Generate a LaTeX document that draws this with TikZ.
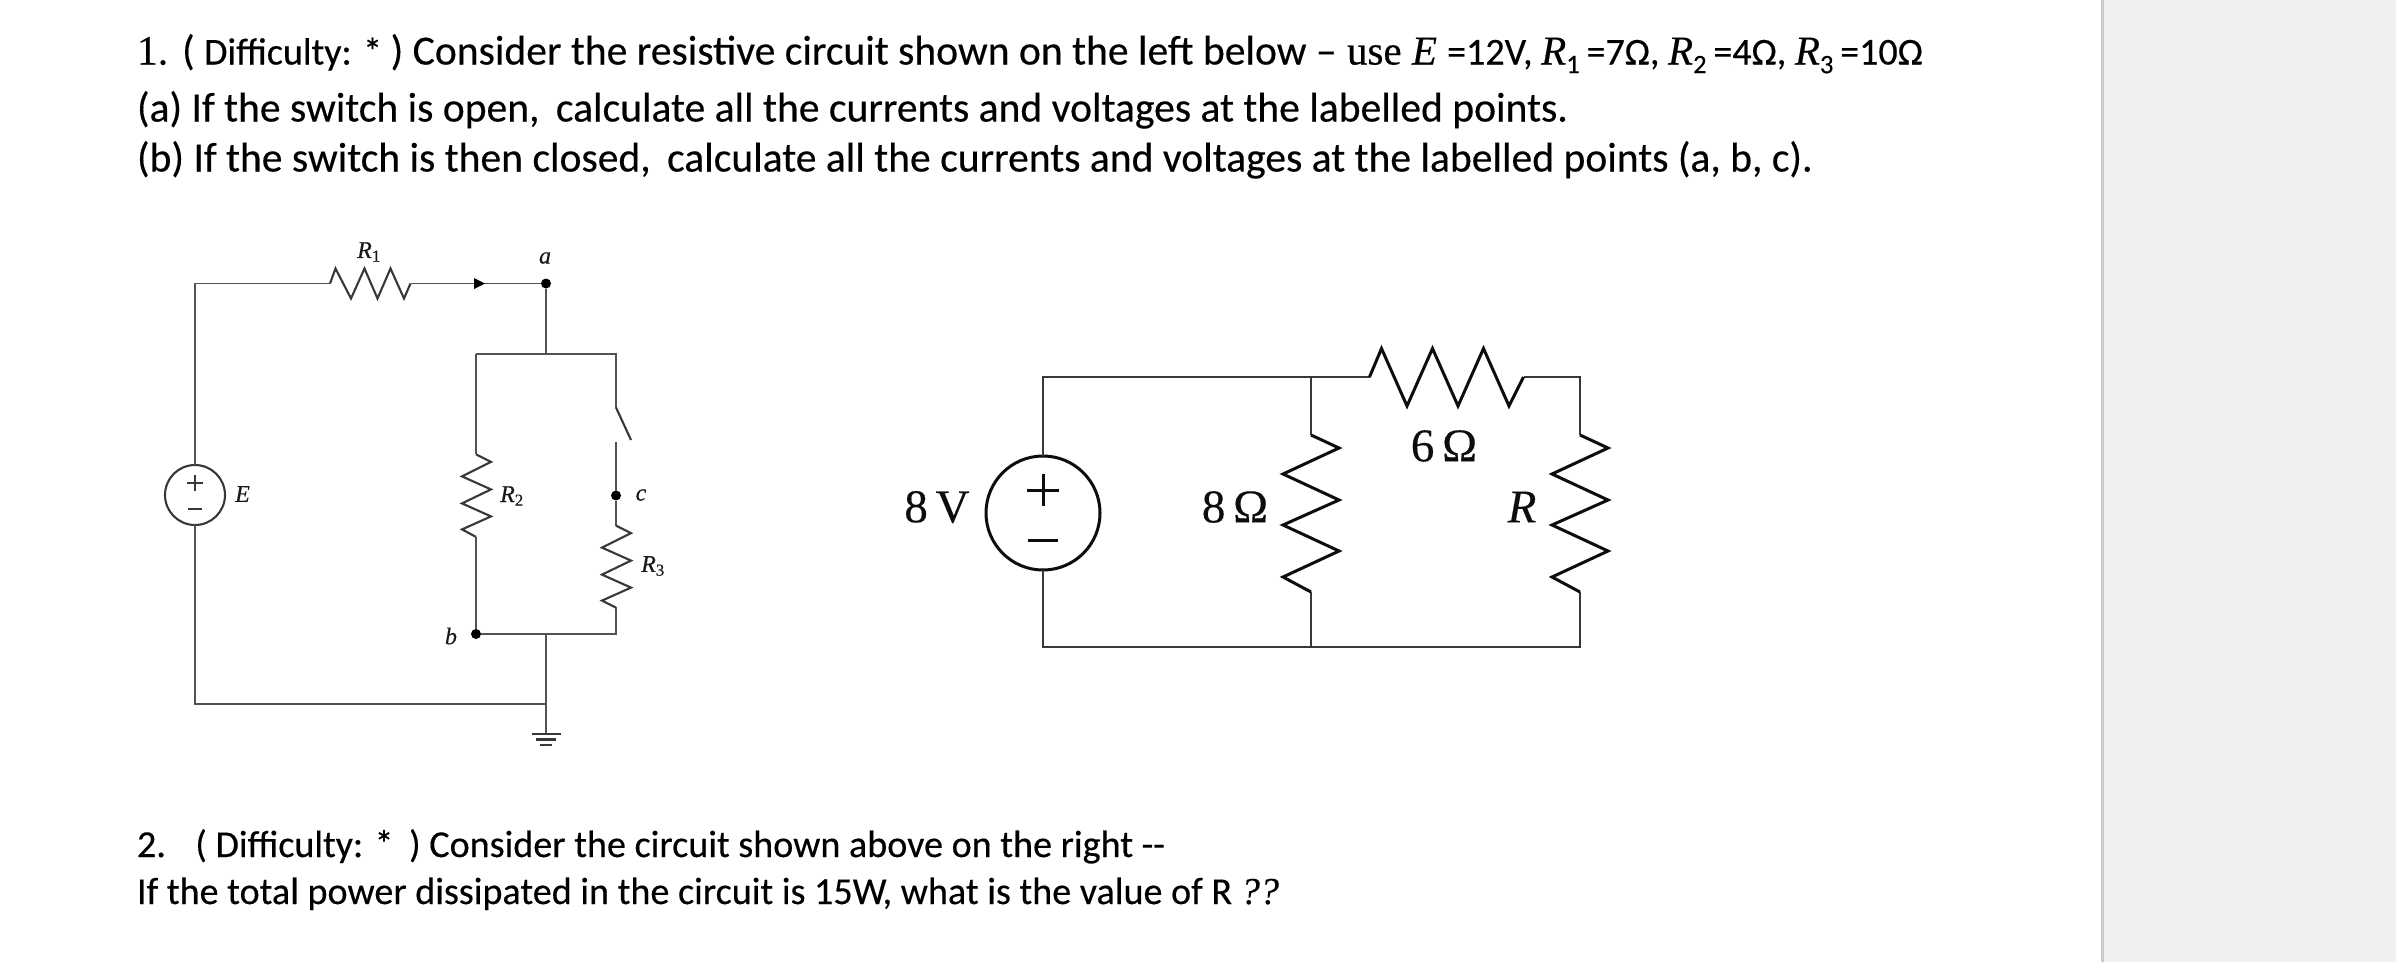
\documentclass[tikz,border=0pt]{standalone}
\usepackage{fontspec}
\setmainfont[FakeBold=0.35]{Carlito}
\newfontfamily\serifface[FakeBold=0.3]{Liberation Serif}
\tikzset{
  txt/.style={anchor=base west,inner sep=0pt,outer sep=0pt,font=\fontsize{41.6}{48}\selectfont,text=black},
  txtb/.style={txt,font=\fontsize{38.1}{46}\selectfont},
  wireL/.style={draw=black!68,line width=1.9pt,line join=miter},
  zigL/.style={draw=black!78,line width=2.1pt,line join=miter},
  wireR/.style={draw=black!78,line width=2.2pt,line join=miter},
  zigR/.style={draw=black!95,line width=3pt,line join=miter},
  dotn/.style={circle,fill=black,inner sep=0pt,minimum size=10pt,outer sep=0pt},
  srcL/.style={circle,draw=black!78,line width=2.1pt,minimum size=60pt,inner sep=0pt,outer sep=0pt},
  srcR/.style={circle,draw=black!95,line width=3pt,minimum size=114pt,inner sep=0pt,outer sep=0pt},
  labL/.style={inner sep=0pt,font=\serifface\fontsize{24}{26}\selectfont\itshape,text=black!90},
  labR/.style={inner sep=0pt,font=\serifface\fontsize{47}{50}\selectfont,text=black!95}
}
\begin{document}
\begin{tikzpicture}[x=1pt,y=-1pt]
\useasboundingbox (0,0) rectangle (2396,962);
\fill[white] (0,0) rectangle (2396,962);
\fill[black!6] (2103,0) rectangle (2396,962);
\fill[black!20] (2101,0) rectangle (2104,962);
% text
\node[txt] (l1) at (137,64.5) {{\serifface 1. }( {\fontsize{38}{40}\selectfont Difficulty: * }) Consider the resistive circuit shown on the left below --};
\node[txt] (l1b) at (1347,64.5) {{\serifface\fontsize{41}{48}\selectfont use \textit{E} }{\fontsize{38}{44}\selectfont =12V, {\serifface\fontsize{41}{48}\selectfont\textit{R}}\textsubscript{1}\,=7Ω, {\serifface\fontsize{41}{48}\selectfont\textit{R}}\textsubscript{2}\,=4Ω, {\serifface\fontsize{41}{48}\selectfont\textit{R}}\textsubscript{3}\,=10Ω}};
\node[txt] (l2) at (137,121.5) {(a) If the switch is open,\, calculate all the currents and voltages at the labelled points.};
\node[txt] (l3) at (137,171.5) {(b) If the switch is then closed,\, calculate all the currents and voltages at the labelled points (a, b, c).};
\node[txtb] (l4) at (137,857) {2.\,\hspace{3pt} \ ( {\fontsize{38}{40}\selectfont Difficulty: * }\hspace{7pt}) Consider the circuit shown above on the right -{}-};
\node[txtb] (l5) at (137,904) {If the total power dissipated in the circuit is 15W, what is the value of R {\serifface\itshape ??}};
% left circuit
\node[srcL] (E) at (195,495) {};
\node[dotn] (a) at (546,283.5) {};
\node[dotn] (b) at (476,634) {};
\node[dotn] (c) at (616,495.5) {};
\coordinate (r1a) at (330,283.5);
\coordinate (r1b) at (411,283.5);
\coordinate (tl) at (195,283.5);
\coordinate (bl) at (195,704);
\coordinate (gj) at (546,704);
\coordinate (gnd) at (546,734);
\coordinate (bj) at (546,634);
\coordinate (tj) at (546,353.7);
\coordinate (tjl) at (476,353.7);
\coordinate (tjr) at (616,353.7);
\coordinate (sw1) at (616,407.5);
\coordinate (sw2) at (631,440);
\coordinate (sw3) at (616,442);
\coordinate (r2a) at (476,454.4);
\coordinate (r2b) at (476,536.7);
\coordinate (r3a) at (616,525.6);
\coordinate (r3b) at (616,607);
\coordinate (br) at (616,634);
\coordinate (arr) at (485,283.5);
\draw[wireL] (E) -- (tl) -- (r1a);
\draw[wireL] (r1b) -- (a);
\draw[wireL] (E) -- (bl) -- (gj);
\draw[wireL] (a) -- (tj);
\draw[wireL] (tjl) -- (tjr) -- (sw1);
\draw[wireL] (tjl) -- (r2a);
\draw[wireL] (r2b) -- (b);
\draw[wireL] (b) -- (br) -- (r3b);
\draw[wireL] (r3a) -- (c) -- (sw3);
\draw[wireL] (bj) -- (gnd);
\draw[zigL] (sw1) -- (sw2);
\fill[black] (arr) -- ++(-11,-5.5) -- ++(0,11) -- cycle;
\draw[zigL] (r1a) -- ++(5.5,-15) -- ++(15.5,30) -- ++(13.5,-30) -- ++(13,30) -- ++(13,-30) -- ++(13.5,30) -- ++(6.5,-15);
\draw[zigL] (r2a) -- ++(15,7.5) -- ++(-29,14.5) -- ++(29,13) -- ++(-29,14) -- ++(29,13) -- ++(-29,13) -- ++(14,7.5);
\draw[zigL] (r3a) -- ++(15,7.5) -- ++(-29,14.5) -- ++(29,13) -- ++(-29,14) -- ++(29,13) -- ++(-29,13) -- ++(14,7);
\draw[zigL] (531.5,734) -- (560.5,734) (536,739.5) -- (556,739.5) (540,745) -- (552,745);
\draw[zigL] (187,483) -- (203,483) (195,475) -- (195,491) (188,509) -- (202,509);
\node[labL] (lr1) at (369,252) {R\textsubscript{\upshape 1}};
\node[labL] (la) at (545,258) {a};
\node[labL] (lE) at (242.5,494) {E};
\node[labL] (lr2) at (512,496) {R\textsubscript{\upshape 2}};
\node[labL] (lc) at (641,495) {c};
\node[labL] (lr3) at (653,566) {R\textsubscript{\upshape 3}};
\node[labL] (lb) at (451,636) {b};
% right circuit
\node[srcR] (V) at (1043,513) {};
\coordinate (tl2) at (1043,377);
\coordinate (bl2) at (1043,647);
\coordinate (tm) at (1311,377);
\coordinate (bm) at (1311,647);
\coordinate (tr) at (1580,377);
\coordinate (brr) at (1580,647);
\coordinate (r6a) at (1369.5,377);
\coordinate (r6b) at (1524,377);
\coordinate (r8a) at (1311,435);
\coordinate (r8b) at (1311,592);
\coordinate (ra) at (1580,435);
\coordinate (rb) at (1580,592);
\draw[wireR] (V) -- (tl2) -- (r6a);
\draw[wireR] (V) -- (bl2) -- (brr) -- (rb);
\draw[wireR] (r6b) -- (tr) -- (ra);
\draw[wireR] (tm) -- (r8a);
\draw[wireR] (r8b) -- (bm);
\draw[zigR] (r6a) -- ++(12,-28.5) -- ++(25.5,57.5) -- ++(25.5,-57.5) -- ++(25.5,57.5) -- ++(25.5,-57.5) -- ++(25.5,57.5) -- ++(14.5,-29);
\draw[zigR] (r8a) -- ++(28,13) -- ++(-56,26) -- ++(56,26) -- ++(-56,25) -- ++(56,26) -- ++(-56,26) -- ++(28,15);
\draw[zigR] (ra) -- ++(28,13) -- ++(-56,26) -- ++(56,26) -- ++(-56,25) -- ++(56,26) -- ++(-56,26) -- ++(28,15);
\draw[zigR] (1027,490) -- (1059,490) (1043,474) -- (1043,506) (1028,540.6) -- (1058,540.6);
\node[labR] (l8v) at (937,507) {8\,V};
\node[labR] (l8o) at (1235,507) {8\,Ω};
\node[labR] (l6o) at (1444,446) {6\,Ω};
\node[labR,font=\serifface\fontsize{47}{50}\selectfont\itshape] (lR) at (1522,507) {R};
\end{tikzpicture}
\end{document}
